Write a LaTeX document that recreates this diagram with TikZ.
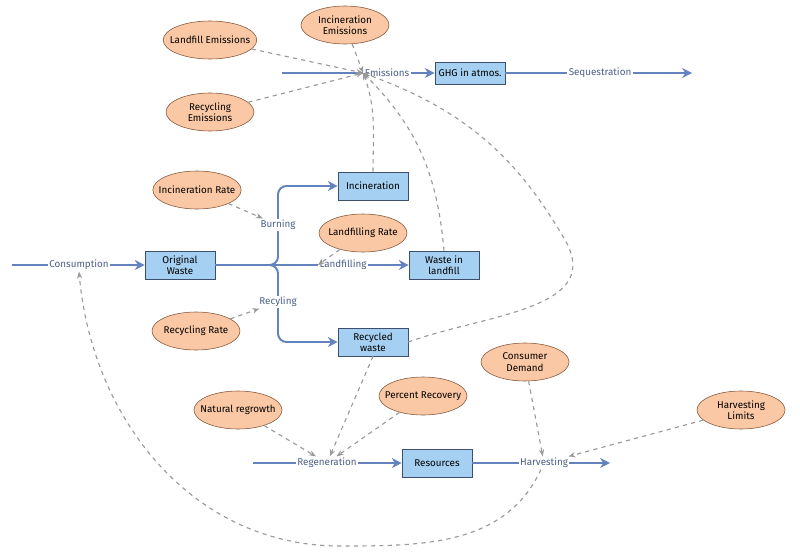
\documentclass[tikz,border=0pt]{standalone}
\usepackage{fontspec}
\setmainfont{Fira Sans}
\usetikzlibrary{positioning}
\usetikzlibrary{arrows.meta}
\usetikzlibrary{calc, shapes}
\definecolor{stockfill}{RGB}{165,208,242}
\definecolor{stockdraw}{RGB}{60,80,110}
\definecolor{auxfill}{RGB}{250,200,165}
\definecolor{auxdraw}{RGB}{130,85,55}
\definecolor{flowcol}{RGB}{100,130,190}
\definecolor{labcol}{RGB}{75,95,135}
\tikzset{%
	% Specifications for style of nodes:
	base/.style = {draw, inner sep=2pt, text centered, align=center,
		font=\fontsize{7}{8}\selectfont},
	stock/.style = {base, rectangle, draw=stockdraw, fill=stockfill,
		minimum width=1.75cm, minimum height=0.7cm},
	aux/.style = {base, ellipse, draw=auxdraw, fill=auxfill,
		minimum width=2.2cm, minimum height=0.95cm, inner xsep=-5pt, inner ysep=0pt},
	rate/.style = {fill=white, inner sep=1pt, text=labcol,
		font=\fontsize{7}{8}\selectfont},
	flow/.style = {draw=flowcol, line width=1.4pt, -{Stealth[length=7pt,width=7pt]}},
	link/.style = {draw=gray!80, dashed, thick, -{Stealth[length=5pt]}},
}
\begin{document}
\begin{tikzpicture}[x=0.025cm, y=-0.025cm]
	\useasboundingbox (0,0) rectangle (800,559);
	
	% stocks
	\node (orig) [stock] at (180,265) {Original\\Waste};
	\node (incin) [stock] at (373,186) {Incineration};
	\node (landfill) [stock] at (444,265) {Waste in\\landfill};
	\node (recyc) [stock] at (373,342) {Recycled\\waste};
	\node (ghg) [stock, minimum height=0.55cm] at (470,73) {GHG in atmos.};
	\node (res) [stock] at (437,463) {Resources};
	
	% auxiliaries
	\node (lfem) [aux] at (210,40) {Landfill Emissions};
	\node (inem) [aux] at (345,25) {Incineration\\Emissions};
	\node (rcem) [aux] at (210,112) {Recycling\\Emissions};
	\node (inrate) [aux] at (197,190) {Incineration Rate};
	\node (lfrate) [aux] at (363,233) {Landfilling Rate};
	\node (rcrate) [aux] at (196,331) {Recycling Rate};
	\node (demand) [aux] at (525,362) {Consumer\\Demand};
	\node (limits) [aux] at (741,410) {Harvesting\\Limits};
	\node (regrow) [aux] at (238,410) {Natural regrowth};
	\node (recov) [aux] at (423,396) {Percent Recovery};
	
	% flows
	\coordinate (emsrc) at (282,73);
	\coordinate (seqend) at (692,73);
	\coordinate (conssrc) at (12,265);
	\coordinate (regsrc) at (253,463);
	\coordinate (harvend) at (610,463);
	\coordinate (split) at (278,265);
	\draw [flow] (emsrc) -- (ghg);
	\draw [flow] (ghg) -- (seqend);
	\draw [flow] (conssrc) -- (orig);
	\draw [flow] (orig) -- (landfill);
	\draw [flow, rounded corners=6pt] (orig.east) -- (split) |- (incin);
	\draw [flow, rounded corners=6pt] (orig.east) -- (split) |- (recyc);
	\draw [flow] (regsrc) -- (res);
	\draw [flow] (res) -- (harvend);
	
	% rate labels
	\node (ems) [rate] at (387,73) {Emissions};
	\node (seq) [rate] at (600,73) {Sequestration};
	\node (cons) [rate] at (79,265) {Consumption};
	\node (burn) [rate] at (278,225) {Burning};
	\node (lfing) [rate] at (343,265) {Landfilling};
	\node (rcing) [rate] at (278,302) {Recyling};
	\node (regen) [rate] at (327,463) {Regeneration};
	\node (harv) [rate] at (544,463) {Harvesting};
	
	% links
	\draw [link] (lfem) -- (ems.west);
	\draw [link] (inem) -- (ems.west);
	\draw [link] (rcem) -- (ems.west);
	\draw [link] (incin.north) to[out=90, in=-70] (ems.west);
	\draw [link] (landfill.north) to[out=95, in=-45] (ems.west);
	\draw [link] (recyc.east) to[out=20, in=-60, looseness=1.1] (565,240) to[out=120, in=-20] (ems.west);
	\draw [link] (inrate) -- (burn);
	\draw [link] (lfrate) -- (lfing.west);
	\draw [link] (rcrate) -- (rcing);
	\draw [link] (recyc.south) -- (regen);
	\draw [link] (regrow) -- (regen);
	\draw [link] (recov) -- (regen);
	\draw [link] (demand) -- (harv);
	\draw [link] (limits) -- (harv);
	\draw [link] (harv) to[out=-115, in=0] (340,546) to[out=180, in=-85] (cons.south);
\end{tikzpicture}
\end{document}
